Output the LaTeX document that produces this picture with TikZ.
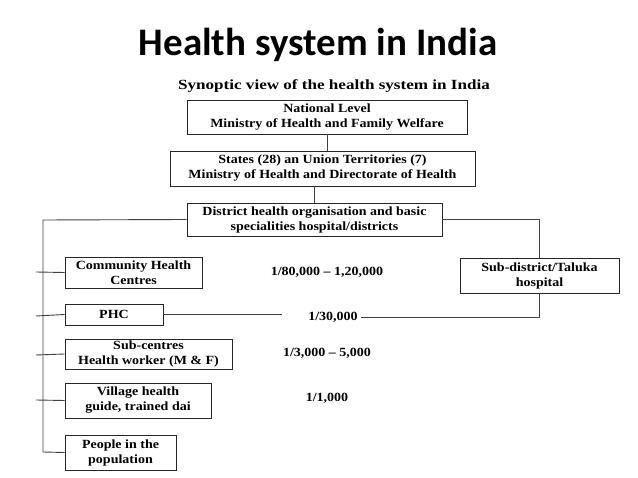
\documentclass[tikz,border=0pt]{standalone}
\usepackage{fontspec}
\setmainfont{Liberation Serif}
\newfontfamily\boxfont[FakeStretch=1.12,Ligatures=TeX]{Liberation Serif}
\newfontfamily\subfont[FakeStretch=1.22,Ligatures=TeX]{Liberation Serif}
\newfontfamily\titlefont{Carlito}
\begin{document}
\begin{tikzpicture}[x=1pt,y=-1pt,
  bx/.style={draw=black!85,line width=0.9pt,align=center,font=\boxfont\bfseries\fontsize{12.5}{15}\selectfont,inner sep=0pt},
  ln/.style={draw=black!75,line width=0.9pt},
  lbl/.style={font=\boxfont\bfseries\fontsize{12.5}{15}\selectfont}]
\useasboundingbox[fill=white] (0,0) rectangle (638,478);
\node[font=\titlefont\bfseries\fontsize{39}{40}\selectfont] (title) at (318,45) {Health system in India};
\node[font=\subfont\bfseries\fontsize{14}{15}\selectfont] (sub) at (334,86) {Synoptic view of the health system in India};
\node[bx,minimum width=280,minimum height=34] (nat) at (327,117) {National Level\\Ministry of Health and Family Welfare};
\node[bx,minimum width=305,minimum height=35] (st) at (322.5,168.5) {States (28) an Union Territories (7)\\Ministry of Health and Directorate of Health};
\node[bx,minimum width=255,minimum height=33] (dist) at (314.5,219.5) {District health organisation and basic\\specialities hospital/districts};
\node[bx,minimum width=137,minimum height=31] (chc) at (133.5,272.5) {Community Health\\Centres};
\node[bx,minimum width=98,minimum height=21] (phc) at (114,314.5) {PHC};
\node[bx,minimum width=167,minimum height=30] (sc) at (148.5,354) {Sub-centres\\Health worker (M \& F)};
\node[bx,minimum width=146,minimum height=35] (vil) at (138,400.5) {Village health\\guide, trained dai};
\node[bx,minimum width=111,minimum height=35] (peo) at (120.5,452.5) {People in the\\population};
\node[bx,minimum width=159,minimum height=35] (sd) at (539.5,275.5) {Sub-district/Taluka\\hospital};
\node[lbl] (r1) at (327,272) {1/80,000 – 1,20,000};
\node[lbl] (r2) at (333,317) {1/30,000};
\node[lbl] (r3) at (327,353) {1/3,000 – 5,000};
\node[lbl] (r4) at (327,398) {1/1,000};
\coordinate (L) at (43,220);
\draw[ln] (nat.south) -- (st.north-|nat.south);
\draw[ln] (st.south-|dist.north) -- (dist.north);
\draw[ln] (dist.west) -- (L) -- (43,452) -- (peo.west);
\draw[ln] (36,272) -- (chc.west);
\draw[ln] (36,316) -- (phc.west);
\draw[ln] (36,355) -- (sc.west);
\draw[ln] (36,400) -- (vil.west);
\draw[ln] (dist.east) -| (sd.north);
\draw[ln] (phc.east) -- (282,314.5);
\draw[ln] (sd.south) |- (r2.east);
\end{tikzpicture}
\end{document}
